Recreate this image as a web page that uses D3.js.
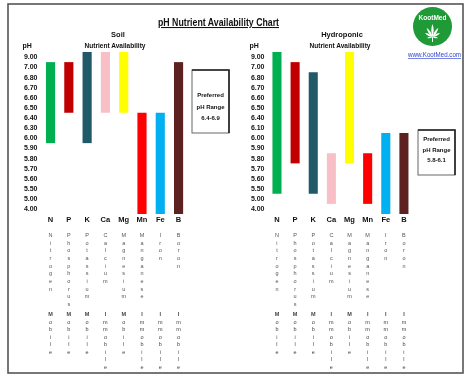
<!DOCTYPE html>
<html><head><meta charset="utf-8">
<script src="https://cdn.jsdelivr.net/npm/d3@7"></script>
<style>body{margin:0;background:#fff;}svg{display:block;font-family:"Liberation Sans",Arial,sans-serif;will-change:transform;-webkit-font-smoothing:antialiased;}</style>
</head><body>
<script>
const categories = ["N","P","K","Ca","Mg","Mn","Fe","B"];
const names = ["Nitrogen","Phosphorus","Potassium","Calcium","Magnesium","Manganese","Iron","Boron"];
const mobility = ["Mobile","Mobile","Mobile","Immobile","Mobile","Immobile","Immobile","Immobile"];
const colors = ["#00b050","#c00000","#215968","#f8c0c6","#ffff00","#ff0000","#00b0f0","#5c2120"];
const soilTicks = ["9.00","7.00","6.80","6.70","6.60","6.50","6.40","6.30","6.00","5.90","5.80","5.70","5.60","5.50","5.00","4.00"];
const hydroTicks = ["9.00","7.00","6.80","6.70","6.60","6.50","6.40","6.10","6.00","5.90","5.80","5.70","5.60","5.50","5.00","4.00"];
const soilHigh = ["7.00","7.00","9.00","9.00","9.00","6.40","6.40","7.00"];
const soilLow  = ["6.00","6.50","6.00","6.50","6.50","4.00","4.00","4.00"];
const hydroHigh = ["9.00","7.00","6.80","5.80","9.00","5.80","6.00","6.00"];
const hydroLow  = ["5.50","5.80","5.50","5.00","5.80","5.00","4.00","4.00"];
const soilRange = "6.4-6.9";
const hydroRange = "5.8-6.1";

const W = 474, H = 378;
const svg = d3.select("body").append("svg").attr("width", W).attr("height", H);
svg.append("rect").attr("width", W).attr("height", H).attr("fill", "#fff");
svg.append("rect").attr("x", 8).attr("y", 4).attr("width", 455).attr("height", 369)
  .attr("fill", "none").attr("stroke", "#555").attr("stroke-width", 1.6);

// Title
svg.append("text").attr("x", 218.5).attr("y", 26).attr("text-anchor", "middle")
  .attr("font-size", 10.5).attr("font-weight", "bold").attr("fill", "#111")
  .attr("textLength", 121).attr("lengthAdjust", "spacingAndGlyphs")
  .attr("text-decoration", "underline")
  .text("pH Nutrient Availability Chart");

function panel(o) {
  const g = svg.append("g");
  const y = d3.scaleBand().domain(o.ticks).range([52, 214]).padding(0);
  const x = d3.scaleBand().domain(categories).range(o.xr).paddingInner(0.5).paddingOuter(0.25);

  // headings
  g.append("text").attr("x", o.headX).attr("y", 37).attr("text-anchor", "middle")
    .attr("font-size", 7.5).attr("font-weight", "bold").attr("fill", "#111").text(o.head);
  g.append("text").attr("x", o.subX).attr("y", 48).attr("text-anchor", "middle")
    .attr("font-size", 7).attr("font-weight", "bold").attr("fill", "#111")
    .attr("textLength", 61).attr("lengthAdjust", "spacingAndGlyphs")
    .text("Nutrient Availability");
  g.append("text").attr("x", o.axisX - 15).attr("y", 48)
    .attr("font-size", 7).attr("font-weight", "bold").attr("fill", "#111").text("pH");

  // y axis
  const ya = g.append("g").attr("transform", `translate(${o.axisX},0)`)
    .call(d3.axisLeft(y).tickSize(0).tickPadding(0));
  ya.select(".domain").remove();
  ya.selectAll("text").attr("font-size", 7).attr("font-weight", "bold").attr("fill", "#111")
    .attr("font-family", "Liberation Sans, Arial, sans-serif");

  // bars
  g.selectAll("rect.bar").data(categories).enter().append("rect").attr("class", "bar")
    .attr("x", d => x(d))
    .attr("width", x.bandwidth())
    .attr("y", (d, i) => y(o.high[i]))
    .attr("height", (d, i) => y(o.low[i]) + y.bandwidth() - y(o.high[i]))
    .attr("fill", (d, i) => colors[i]);

  // x axis
  const xa = g.append("g").attr("transform", "translate(0,214)")
    .call(d3.axisBottom(x).tickSize(0).tickPadding(3));
  xa.select(".domain").remove();
  xa.selectAll("text").attr("font-size", 7.5).attr("font-weight", "bold").attr("fill", "#111")
    .attr("font-family", "Liberation Sans, Arial, sans-serif");

  // vertical names
  categories.forEach((c, i) => {
    const cx = x(c) + x.bandwidth() / 2;
    const t = g.append("text").attr("text-anchor", "middle").attr("font-size", 5.5).attr("fill", "#555");
    names[i].split("").forEach((ch, k) => {
      t.append("tspan").attr("x", cx).attr("y", 237 + k * 7.65).text(ch);
    });
    const m = g.append("text").attr("text-anchor", "middle").attr("font-size", 5.5).attr("fill", "#444");
    mobility[i].split("").forEach((ch, k) => {
      m.append("tspan").attr("x", cx).attr("y", 316 + k * 7.57)
        .attr("font-weight", k === 0 ? "bold" : "normal").text(ch);
    });
  });

  // preferred box
  const b = o.box;
  g.append("rect").attr("x", b[0]).attr("y", b[1]).attr("width", b[2]).attr("height", b[3])
    .attr("fill", "#fff").attr("stroke", "#666").attr("stroke-width", 1);
  g.append("path").attr("d", `M${b[0]},${b[1]}H${b[0] + b[2]}V${b[1] + b[3]}`)
    .attr("fill", "none").attr("stroke", "#222").attr("stroke-width", 1.6);
  const bx = b[0] + b[2] / 2;
  [["Preferred", o.t[0]], ["pH Range", o.t[1]], [o.range, o.t[2]]].forEach(([s, yy]) => {
    g.append("text").attr("x", bx).attr("y", yy).attr("text-anchor", "middle")
      .attr("font-size", 6).attr("font-weight", "bold").attr("fill", "#111").text(s);
  });
}

panel({ticks: soilTicks, high: soilHigh, low: soilLow, xr: [41.4, 187.7], axisX: 37.5,
  head: "Soil", headX: 118, subX: 115, box: [192, 70, 37, 63], t: [97, 108.5, 120], range: soilRange});
panel({ticks: hydroTicks, high: hydroHigh, low: hydroLow, xr: [267.9, 413.0], axisX: 264.5,
  head: "Hydroponic", headX: 342, subX: 340, box: [418, 130, 37, 45], t: [141, 151.5, 162], range: hydroRange});

// Logo
const logo = svg.append("g");
logo.append("circle").attr("cx", 432.5).attr("cy", 26.5).attr("r", 19.5).attr("fill", "#1f9a37");
logo.append("text").attr("x", 432.5).attr("y", 20).attr("text-anchor", "middle")
  .attr("font-size", 6.5).attr("font-weight", "bold").attr("fill", "#fff").text("KootMed");
const leaf = logo.append("g").attr("transform", "translate(432.5,37)");
[[0, 13, 2.4], [-32, 11, 2.2], [32, 11, 2.2], [-62, 8.5, 1.9], [62, 8.5, 1.9], [-100, 5.5, 1.5], [100, 5.5, 1.5]]
  .forEach(([a, L, w]) => {
    leaf.append("path").attr("d", `M0,0Q${w},${-L * 0.55} 0,${-L}Q${-w},${-L * 0.55} 0,0Z`)
      .attr("transform", `rotate(${a})`).attr("fill", "#fff");
  });
leaf.append("path").attr("d", "M0,0L0,5").attr("stroke", "#fff").attr("stroke-width", 1);
svg.append("text").attr("x", 434.5).attr("y", 57).attr("text-anchor", "middle")
  .attr("font-size", 6.3).attr("fill", "#2a3fd0").attr("text-decoration", "underline")
  .attr("textLength", 53).attr("lengthAdjust", "spacingAndGlyphs")
  .text("www.KootMed.com");
</script>
</body></html>
